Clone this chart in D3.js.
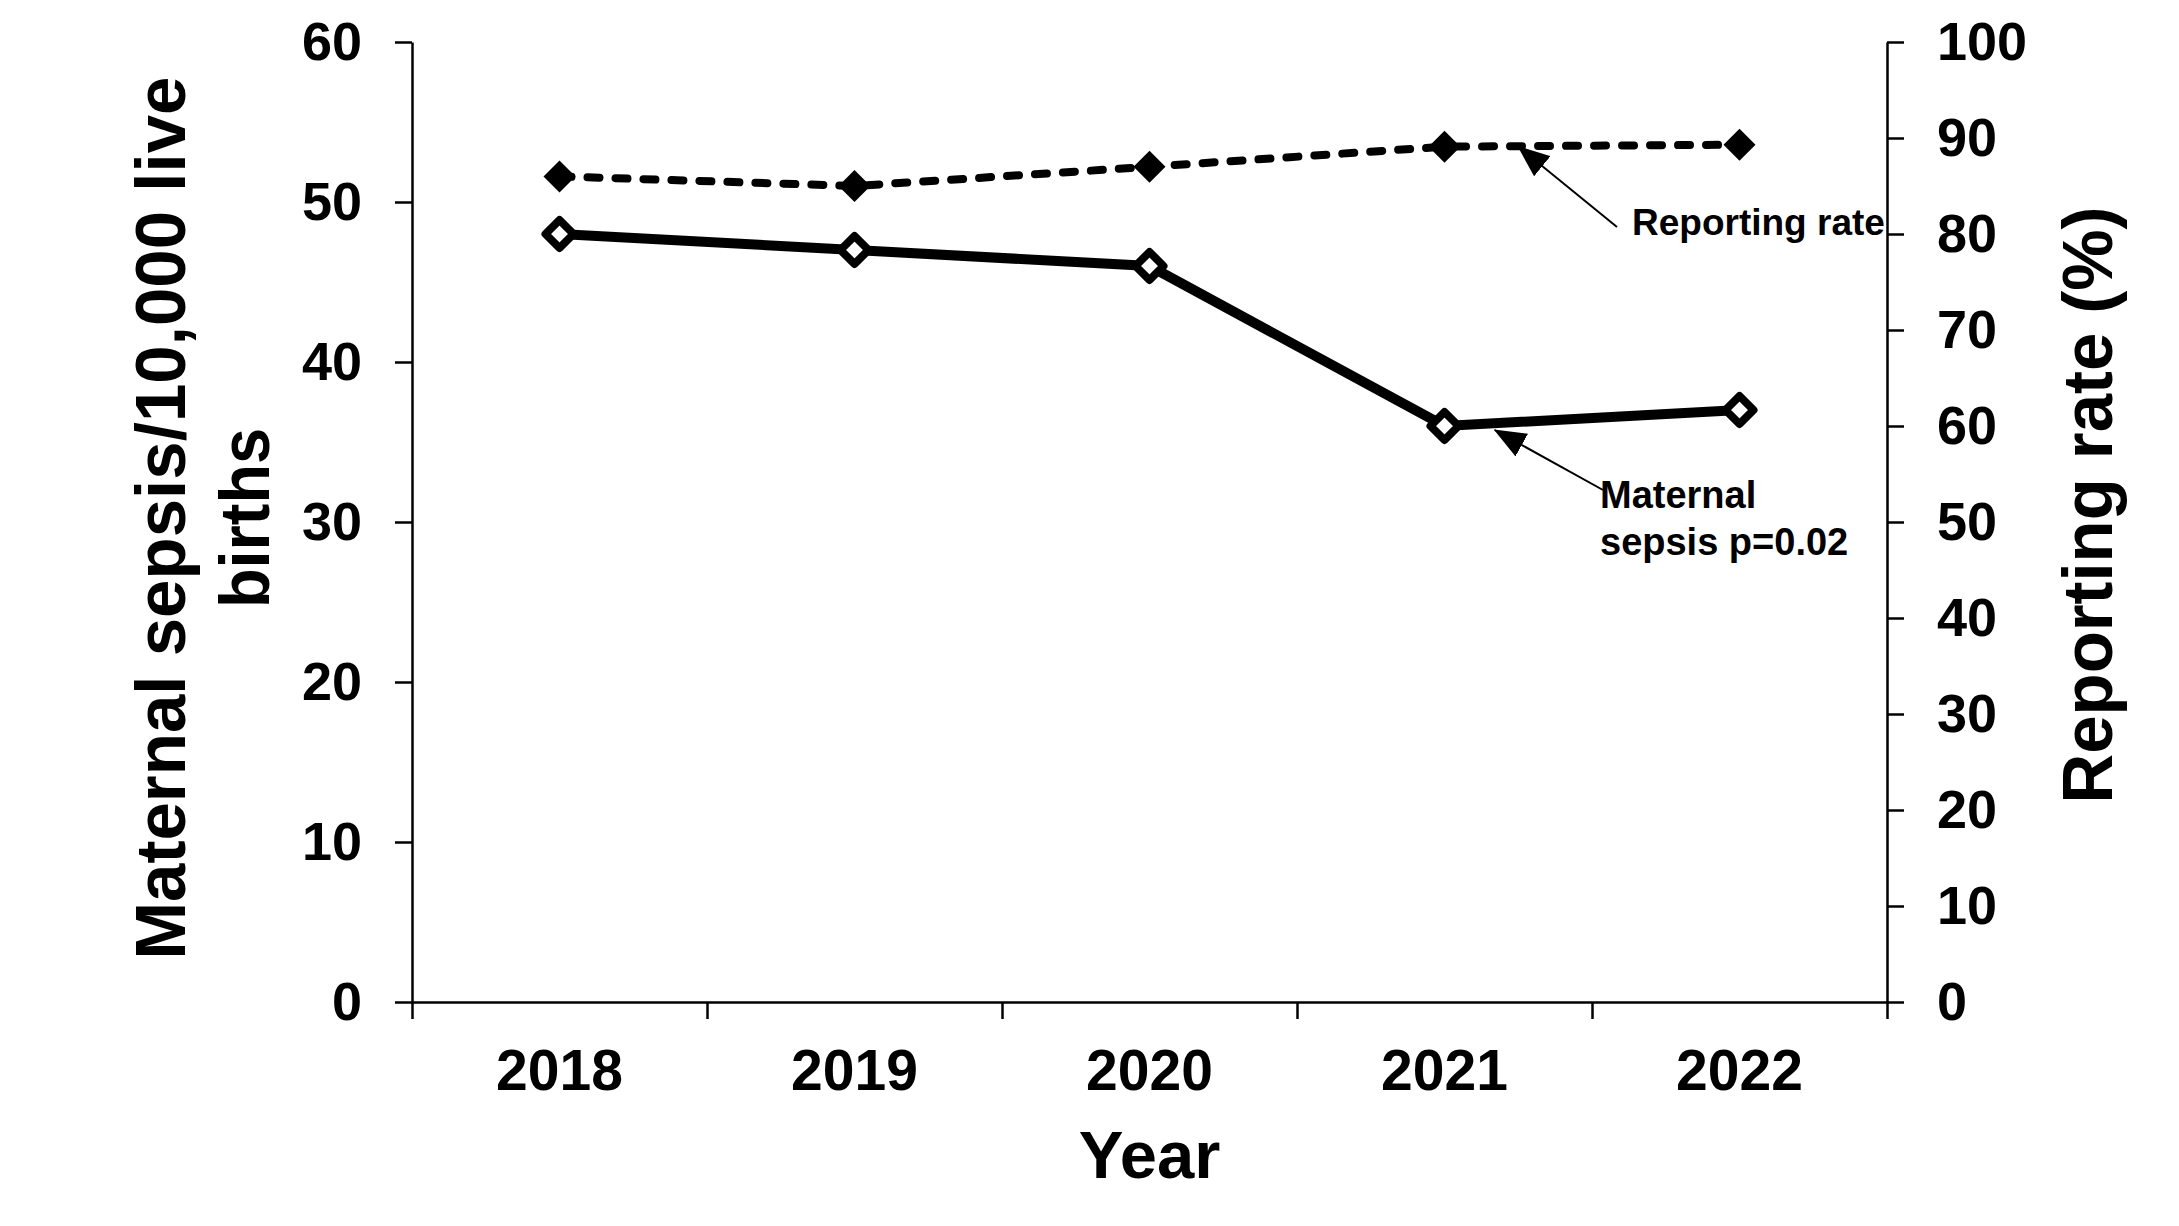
<!DOCTYPE html>
<html>
<head>
    <meta charset="UTF-8">
    <title>Maternal sepsis and reporting rate</title>
    <style>
        body {
            margin: 0;
            overflow: hidden;
            background-color: #fff;
        }
        text {
            font-family: "Liberation Sans", Arial, sans-serif;
            font-weight: bold;
            fill: #000;
        }
    </style>
    <script src="https://cdn.jsdelivr.net/npm/d3@7"></script>
</head>
<body>
    <script>
        // data
        const years = ["2018", "2019", "2020", "2021", "2022"];
        const sepsisRate = [48, 47, 46, 36, 37];          // per 10,000 live births (left axis)
        const reportingRate = [86, 85, 87, 89.1, 89.3];   // % (right axis)
        const leftTicks = [0, 10, 20, 30, 40, 50, 60];
        const rightTicks = [0, 10, 20, 30, 40, 50, 60, 70, 80, 90, 100];

        const width = 2179;
        const height = 1226;
        const margin = {top: 42, right: 292, bottom: 224, left: 412};

        const svg = d3.select('body')
            .append('svg')
            .attr('width', width)
            .attr('height', height);

        const x = d3.scaleBand()
            .domain(years)
            .range([margin.left, width - margin.right]);
        // category edges, for the tick marks between years
        const xEdge = d3.scaleLinear()
            .domain([0, years.length])
            .range([margin.left, width - margin.right]);

        const yLeft = d3.scaleLinear()
            .domain([0, 60])
            .range([height - margin.bottom, margin.top]);
        const yRight = d3.scaleLinear()
            .domain([0, 100])
            .range([height - margin.bottom, margin.top]);

        const bottom = height - margin.bottom;

        // arrowhead marker
        svg.append('defs').append('marker')
            .attr('id', 'arrow')
            .attr('markerUnits', 'userSpaceOnUse')
            .attr('viewBox', '0 0 32 26')
            .attr('refX', 31)
            .attr('refY', 13)
            .attr('markerWidth', 32)
            .attr('markerHeight', 26)
            .attr('orient', 'auto')
            .append('path')
            .attr('d', 'M0,0 L32,13 L0,26 Z')
            .attr('fill', '#000');

        // axes
        const gL = svg.append('g')
            .attr('transform', `translate(${margin.left},0)`)
            .call(d3.axisLeft(yLeft).tickValues(leftTicks).tickSize(17).tickSizeOuter(0).tickPadding(33));
        gL.selectAll('text').style('font-size', '54px');

        const gR = svg.append('g')
            .attr('transform', `translate(${width - margin.right},0)`)
            .call(d3.axisRight(yRight).tickValues(rightTicks).tickSize(17).tickSizeOuter(0).tickPadding(33));
        gR.selectAll('text').style('font-size', '54px');

        const gX = svg.append('g')
            .attr('transform', `translate(0,${bottom})`)
            .call(d3.axisBottom(xEdge).ticks(years.length).tickFormat('').tickSize(17).tickSizeOuter(0));

        const gXL = svg.append('g')
            .attr('transform', `translate(0,${bottom})`)
            .call(d3.axisBottom(x).tickSize(0).tickPadding(48));
        gXL.select('.domain').remove();
        gXL.selectAll('text').style('font-size', '57px');

        svg.selectAll('.domain, .tick line')
            .attr('stroke', '#000')
            .attr('stroke-width', 2.5);

        // axis titles
        svg.append('text')
            .attr('x', x.range()[0] + (x.range()[1] - x.range()[0]) / 2)
            .attr('y', 1178)
            .attr('text-anchor', 'middle')
            .style('font-size', '67px')
            .text('Year');

        const leftTitle = svg.append('text')
            .attr('transform', 'translate(185,518) rotate(-90)')
            .attr('text-anchor', 'middle')
            .style('font-size', '70px');
        leftTitle.append('tspan')
            .attr('x', 0).attr('y', 0)
            .attr('textLength', 883)
            .attr('lengthAdjust', 'spacingAndGlyphs')
            .text('Maternal sepsis/10,000 live');
        leftTitle.append('tspan')
            .attr('x', 0).attr('y', 84)
            .attr('textLength', 180)
            .attr('lengthAdjust', 'spacingAndGlyphs')
            .text('births');

        svg.append('text')
            .attr('transform', 'translate(2112,505) rotate(-90)')
            .attr('text-anchor', 'middle')
            .attr('textLength', 597)
            .attr('lengthAdjust', 'spacingAndGlyphs')
            .style('font-size', '70px')
            .text('Reporting rate (%)');

        const cx = (d, i) => x(years[i]) + x.bandwidth() / 2;
        const diamond = h => `M0,${-h}L${h},0L0,${h}L${-h},0Z`;

        // reporting rate: dashed line, filled diamonds
        const repLine = d3.line()
            .x((d, i) => cx(d, i))
            .y(d => yRight(d));
        svg.append('path')
            .datum(reportingRate)
            .attr('d', repLine)
            .attr('fill', 'none')
            .attr('stroke', '#000')
            .attr('stroke-width', 8)
            .attr('stroke-linecap', 'round')
            .attr('stroke-dasharray', '12 16');
        svg.selectAll('.rep')
            .data(reportingRate)
            .join('path')
            .attr('class', 'rep')
            .attr('transform', (d, i) => `translate(${cx(d, i)},${yRight(d)})`)
            .attr('d', diamond(16))
            .attr('fill', '#000');

        // maternal sepsis: solid line, hollow diamonds
        const sepLine = d3.line()
            .x((d, i) => cx(d, i))
            .y(d => yLeft(d));
        svg.append('path')
            .datum(sepsisRate)
            .attr('d', sepLine)
            .attr('fill', 'none')
            .attr('stroke', '#000')
            .attr('stroke-width', 10);
        svg.selectAll('.sep')
            .data(sepsisRate)
            .join('path')
            .attr('class', 'sep')
            .attr('transform', (d, i) => `translate(${cx(d, i)},${yLeft(d)})`)
            .attr('d', diamond(14))
            .attr('fill', '#fff')
            .attr('stroke', '#000')
            .attr('stroke-width', 8)
            .attr('stroke-linejoin', 'round');

        // annotations
        svg.append('line')
            .attr('x1', 1617).attr('y1', 227)
            .attr('x2', xEdge(3.75)).attr('y2', yRight(89.1))
            .attr('stroke', '#000')
            .attr('stroke-width', 2)
            .attr('marker-end', 'url(#arrow)');
        svg.append('text')
            .attr('x', 1632)
            .attr('y', 235)
            .style('font-size', '37px')
            .text('Reporting rate');

        svg.append('line')
            .attr('x1', 1603).attr('y1', 490)
            .attr('x2', xEdge(3.67)).attr('y2', yLeft(35.75))
            .attr('stroke', '#000')
            .attr('stroke-width', 2)
            .attr('marker-end', 'url(#arrow)');
        const ann = svg.append('text')
            .style('font-size', '38px');
        ann.append('tspan').attr('x', 1600).attr('y', 508).text('Maternal');
        ann.append('tspan').attr('x', 1600).attr('y', 555).text('sepsis p=0.02');
    </script>
</body>
</html>
